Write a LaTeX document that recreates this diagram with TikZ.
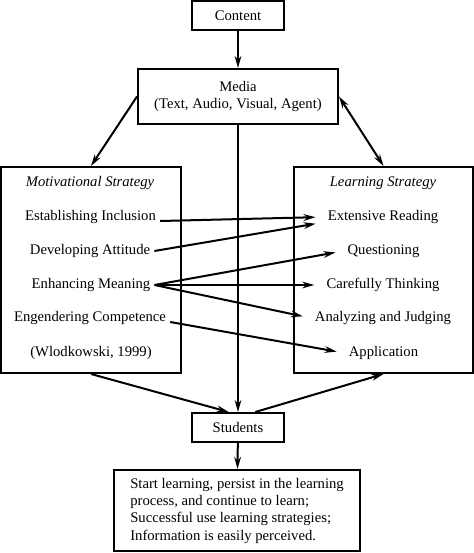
\documentclass[tikz,border=0pt]{standalone}
\usepackage{fontspec}
\setmainfont{Liberation Serif}
\usetikzlibrary{calc}
\usetikzlibrary{positioning}
\usetikzlibrary{arrows.meta}

\begin{document}
\begin{tikzpicture}[%
  >={Stealth[length=9pt,width=5pt]},
  x=0.75pt, y=-0.75pt,
  font=\fontsize{11}{13}\selectfont,
  box/.style={draw, line width=1.5pt, inner sep=0pt, align=center},
  item/.style={inner sep=3pt},
  flow/.style={->, line width=1.5pt},
  link/.style={->, line width=1.5pt, shorten >=6pt},
]

  \useasboundingbox (0,0) rectangle (474,553);

  \node[box, minimum width=69pt, minimum height=21.75pt] (content) at (238,15.5) {Content};
  \node[box, minimum width=150pt, minimum height=41.25pt] (media) at (238,96.5)
    {Media\\(Text, Audio, Visual, Agent)};
  \node[box, minimum width=135pt, minimum height=154.5pt] (motiv) at (91,270) {};
  \node[box, minimum width=134.25pt, minimum height=154.5pt] (learn) at (383.5,270) {};
  \node[box, minimum width=69pt, minimum height=21.75pt] (students) at (238,427.5) {Students};
  \node[box, minimum width=184.5pt, minimum height=60.75pt, align=left] (result) at (237,510.5)
    {Start learning, persist in the learning\\process, and continue to learn;\\Successful use learning strategies;\\Information is easily perceived.};

  \node (mhead) at (90,183) {\textit{Motivational Strategy}};
  \node[item] (incl) at (90.5,217) {Establishing Inclusion};
  \node[item] (attit) at (90,251) {Developing Attitude};
  \node[item] (mean) at (91,285) {Enhancing Meaning};
  \node[item] (compet) at (90,318) {Engendering Competence};
  \node (wlod) at (91,353) {(Wlodkowski, 1999)};

  \node (lhead) at (383,183) {\textit{Learning Strategy}};
  \node[item] (read) at (383,217) {Extensive Reading};
  \node[item] (quest) at (383.5,251) {Questioning};
  \node[item] (think) at (383,285) {Carefully Thinking};
  \node[item] (judge) at (383,318) {Analyzing and Judging};
  \node[item] (appl) at (383.5,353) {Application};

  \draw[flow] (content) -- (media);
  \draw[flow] (media.west) -- (motiv.north);
  \draw[flow,<->] (media.east) -- (learn.north);
  \draw[flow] (media) -- (students);
  \draw[flow] (motiv.south) -- ([xshift=-7pt]students.north);
  \draw[flow] ([xshift=13pt]students.north) -- (learn.south);
  \draw[flow] (students) -- (result);

  \draw[link] ([yshift=-3pt]incl.east) -- (read.west);
  \draw[link] (attit.east) -- ([yshift=-4pt]read.west);
  \draw[link] (mean.east) -- (quest.west);
  \draw[link] (mean.east) -- (think.west);
  \draw[link] (mean.east) -- (judge.west);
  \draw[link] ([yshift=-3pt]compet.east) -- (appl.west);

\end{tikzpicture}
\end{document}
